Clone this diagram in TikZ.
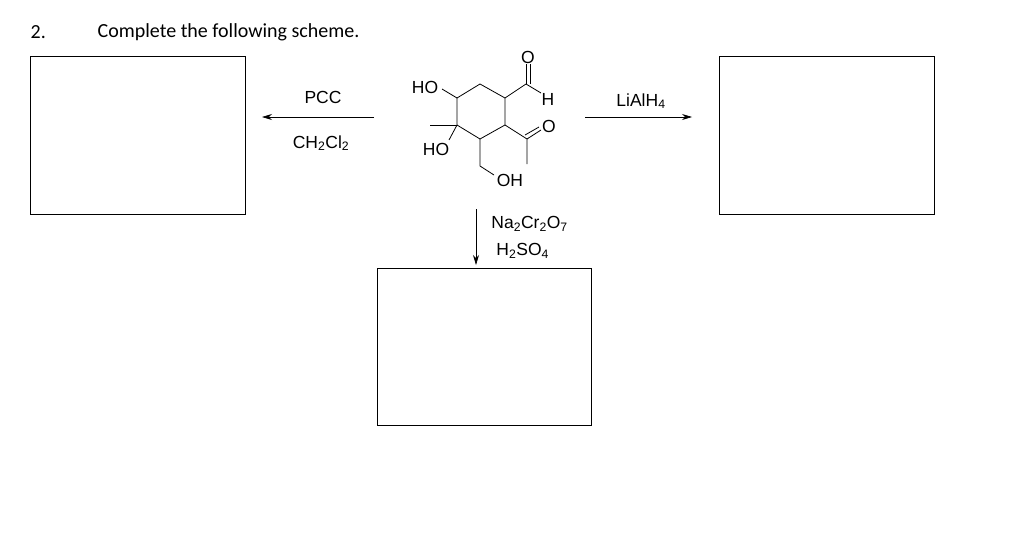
\documentclass[tikz,border=0pt]{standalone}
\usepackage{fontspec}
\usetikzlibrary{arrows.meta}
\setmainfont{Liberation Sans}
\newfontfamily\calfont{Carlito}
\newcommand{\sbs}[1]{\textsubscript{#1}}
\begin{document}
\begin{tikzpicture}[x=1pt,y=-1pt,line width=0.8pt,
  box/.style={draw,line width=0.6pt},
  lab/.style={inner sep=0pt,font=\fontsize{17.5}{19}\selectfont},
  arr/.style={-{Stealth[length=10pt,width=6pt]},line width=0.7pt},
  bnd/.style={line width=0.8pt}]
\useasboundingbox (0,0) rectangle (1024,549);
\node[font=\calfont\fontsize{20}{22}\selectfont,anchor=west] (num) at (27,32) {2.};
\node[font=\calfont\fontsize{20}{22}\selectfont,anchor=west] (title) at (94,32) {Complete the following scheme.};
\draw[box] (30,56) rectangle (245,214);
\draw[box] (719,56) rectangle (934,214);
\draw[box] (377,268) rectangle (591,425);
\coordinate (la) at (374,117); \coordinate (lb) at (262,117);
\draw[arr] (la) -- (lb);
\coordinate (ra) at (585,117); \coordinate (rb) at (692,117);
\draw[arr] (ra) -- (rb);
\coordinate (da) at (476,209); \coordinate (db) at (476,265);
\draw[arr] (da) -- (db);
\node[lab] (pcc) at (323,97) {PCC};
\node[lab] (dcm) at (321,143) {CH\sbs{2}Cl\sbs{2}};
\node[lab] (lah) at (641,101) {LiAlH\sbs{4}};
\node[lab,anchor=west] (na) at (491,224) {Na\sbs{2}Cr\sbs{2}O\sbs{7}};
\node[lab,anchor=west] (hs) at (496,251) {H\sbs{2}SO\sbs{4}};
% molecule
\coordinate (r1) at (480,84); \coordinate (r2) at (505,98);
\coordinate (r3) at (505,125); \coordinate (r4) at (480,139);
\coordinate (r5) at (457,125); \coordinate (r6) at (457,98);
\draw[bnd] (r1)--(r2)--(r3)--(r4)--(r5)--(r6)--cycle;
\node[lab] (ho1) at (425,87) {HO};
\draw[bnd] (r6) -- (442,89);
\coordinate (c1) at (526,84);
\draw[bnd] (r2) -- (c1);
\draw[bnd] (c1) -- (526,64); \draw[bnd] (530,84) -- (530,64);
\node[lab] (o1) at (528,57) {O};
\draw[bnd] (c1) -- (541,93);
\node[lab] (h1) at (548,99) {H};
\coordinate (c2) at (527,139);
\draw[bnd] (r3) -- (c2) -- (527,164);
\draw[bnd] (c2) -- (541,130); \draw[bnd] (525,135) -- (539,127);
\node[lab] (o2) at (549,126) {O};
\draw[bnd] (r5) -- (430,125);
\draw[bnd] (r5) -- (449,140);
\node[lab] (ho2) at (436,149) {HO};
\draw[bnd] (r4) -- (480,166) -- (494,175);
\node[lab] (oh) at (510,180) {OH};
\end{tikzpicture}
\end{document}
